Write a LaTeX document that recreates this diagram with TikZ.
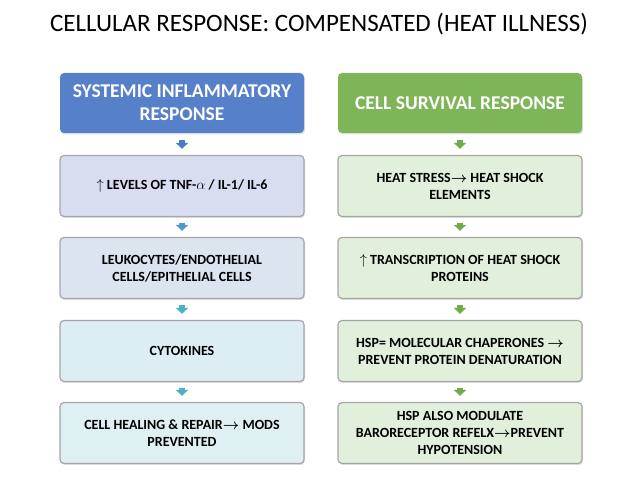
\documentclass[tikz,border=0pt]{standalone}
\usepackage{amsmath}
\usepackage{fontspec}
\setmainfont{Carlito}
\usetikzlibrary{arrows.meta,shadows}
\definecolor{hb}{HTML}{4472C4}
\definecolor{hg}{HTML}{70AD47}
\definecolor{l1}{HTML}{D9DDF0}
\definecolor{l2}{HTML}{DCE4F0}
\definecolor{l3}{HTML}{DDEEF2}
\definecolor{l4}{HTML}{DEF0F1}
\definecolor{gb}{HTML}{E2EFDA}
\definecolor{a1}{HTML}{4A7CC4}
\definecolor{a2}{HTML}{4B9BC4}
\definecolor{a3}{HTML}{4BB2C4}
\definecolor{ag}{HTML}{70AD47}
\tikzset{
 x=1pt,y=-1pt,
 box/.style={draw=gray!70,line width=1.2pt,rounded corners=4pt,minimum width=244pt,minimum height=61pt,align=center,font=\bfseries\fontsize{14}{17}\selectfont,text=black,drop shadow={opacity=0.25,shadow xshift=1pt,shadow yshift=-1.5pt}},
 head/.style={box,draw=none,text=white,font=\bfseries\fontsize{19.5}{23}\selectfont,minimum height=60pt},
 barr/.style={line width=6pt,-{Triangle[width=12pt,length=6pt]},shorten <=6pt,shorten >=6pt}
}
\begin{document}
\begin{tikzpicture}
\useasboundingbox (0,0) rectangle (638,478);
\node[font=\fontsize{25}{29}\selectfont] (t) at (319,24) {CELLULAR RESPONSE: COMPENSATED (HEAT ILLNESS)};
\node[head,top color=hb!90,bottom color=hb!100!black!90] (L0) at (182,103) {SYSTEMIC INFLAMMATORY\\RESPONSE};
\node[box,fill=l1] (L1) at (182,186) {$\uparrow$ LEVELS OF TNF-$\alpha$ / IL-1/ IL-6};
\node[box,fill=l2] (L2) at (182,268) {LEUKOCYTES/ENDOTHELIAL\\CELLS/EPITHELIAL CELLS};
\node[box,fill=l3] (L3) at (182,351) {CYTOKINES};
\node[box,fill=l4] (L4) at (182,433) {CELL HEALING \& REPAIR$\boldsymbol{\rightarrow}$ MODS\\PREVENTED};
\node[head,top color=hg!90,bottom color=hg!100!black!90] (R0) at (460,103) {CELL SURVIVAL RESPONSE};
\node[box,fill=gb] (R1) at (460,186) {HEAT STRESS$\boldsymbol{\rightarrow}$ HEAT SHOCK\\ELEMENTS};
\node[box,fill=gb] (R2) at (460,268) {$\uparrow$ TRANSCRIPTION OF HEAT SHOCK\\PROTEINS};
\node[box,fill=gb] (R3) at (460,351) {HSP= MOLECULAR CHAPERONES $\boldsymbol{\rightarrow}$\\PREVENT PROTEIN DENATURATION};
\node[box,fill=gb] (R4) at (460,433) {HSP ALSO MODULATE\\BARORECEPTOR REFELX$\boldsymbol{\rightarrow}$PREVENT\\HYPOTENSION};
\draw[barr,a1] (L0) -- (L1);
\draw[barr,a2] (L1) -- (L2);
\draw[barr,a3] (L2) -- (L3);
\draw[barr,a3] (L3) -- (L4);
\draw[barr,ag] (R0) -- (R1);
\draw[barr,ag] (R1) -- (R2);
\draw[barr,ag] (R2) -- (R3);
\draw[barr,ag] (R3) -- (R4);
\end{tikzpicture}
\end{document}
